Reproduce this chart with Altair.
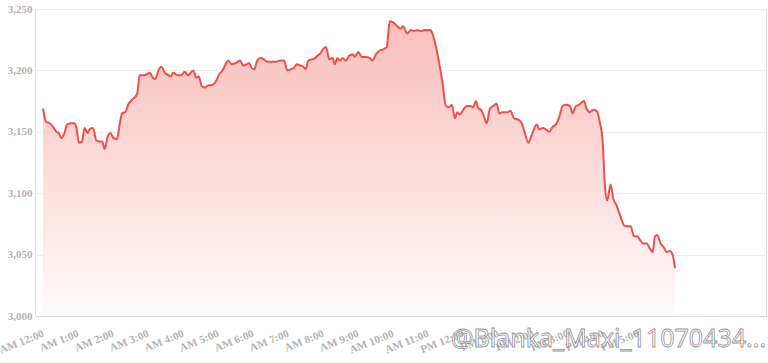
import altair as alt
import pandas as pd

hours = [0.0, 0.09, 0.19, 0.29, 0.38, 0.45, 0.52, 0.60, 0.69, 0.81, 0.89, 0.95,
         1.03, 1.11, 1.19, 1.27, 1.33, 1.43, 1.52, 1.62, 1.69, 1.76, 1.86, 1.93,
         2.01, 2.11, 2.19, 2.26, 2.35, 2.45, 2.54, 2.69, 2.76, 2.89, 2.98,
         3.05, 3.14, 3.21, 3.31, 3.38, 3.48, 3.59, 3.65, 3.72, 3.84, 3.95,
         4.05, 4.14, 4.29, 4.38, 4.45, 4.54, 4.63, 4.72, 4.82, 4.94,
         5.04, 5.13, 5.20, 5.29, 5.39, 5.51, 5.63, 5.72, 5.82, 5.89, 5.96,
         6.04, 6.12, 6.22, 6.31, 6.41, 6.53, 6.66, 6.77, 6.89, 6.98,
         7.08, 7.17, 7.25, 7.34, 7.44, 7.51, 7.58, 7.68, 7.77, 7.84, 7.93, 7.99,
         8.09, 8.18, 8.28, 8.34, 8.41, 8.49, 8.56, 8.66, 8.75, 8.85, 8.91,
         9.01, 9.11, 9.23, 9.34, 9.42, 9.51, 9.61, 9.71, 9.82, 9.91,
         10.01, 10.12, 10.22, 10.29, 10.41, 10.51, 10.60, 10.69, 10.79, 10.91,
         11.06, 11.13, 11.23, 11.32, 11.42, 11.51, 11.61, 11.68, 11.77, 11.84, 11.91,
         12.01, 12.11, 12.20, 12.29, 12.37, 12.44, 12.51, 12.58, 12.68, 12.77, 12.87, 12.96,
         13.04, 13.13, 13.25, 13.36, 13.46, 13.58, 13.68, 13.77, 13.87, 13.96,
         14.11, 14.18, 14.28, 14.37, 14.47, 14.56, 14.66, 14.75, 14.85, 14.94,
         15.06, 15.13, 15.23, 15.32, 15.39, 15.46, 15.53, 15.63, 15.72, 15.82, 15.91, 15.99,
         16.06, 16.12, 16.22, 16.29, 16.39, 16.49, 16.60, 16.68, 16.79, 16.89, 16.98,
         17.06, 17.15, 17.25, 17.34, 17.42, 17.49, 17.55, 17.65, 17.74, 17.82, 17.91, 17.99,
         18.06]

prices = [3169, 3158, 3157, 3154, 3150, 3149, 3145, 3148, 3156, 3157, 3157, 3154,
          3141, 3142, 3153, 3149, 3152, 3153, 3143, 3142, 3142, 3136, 3147, 3149,
          3145, 3144, 3156, 3165, 3166, 3173, 3176, 3181, 3196, 3196, 3197,
          3198, 3194, 3193, 3201, 3203, 3198, 3196, 3195, 3198, 3196, 3196,
          3199, 3196, 3200, 3194, 3195, 3187, 3186, 3188, 3188, 3191,
          3197, 3200, 3204, 3208, 3205, 3206, 3208, 3204, 3205, 3206, 3202,
          3201, 3208, 3210, 3209, 3207, 3207, 3207, 3208, 3208, 3200,
          3201, 3202, 3205, 3204, 3203, 3201, 3208, 3209, 3210, 3212, 3214, 3217,
          3219, 3209, 3210, 3205, 3210, 3208, 3210, 3208, 3212, 3213, 3211,
          3215, 3211, 3211, 3210, 3208, 3213, 3216, 3217, 3219, 3240,
          3239, 3236, 3234, 3236, 3230, 3233, 3232, 3233, 3232, 3233,
          3233, 3230, 3219, 3206, 3189, 3171, 3170, 3172, 3161, 3166, 3164,
          3168, 3171, 3171, 3170, 3175, 3169, 3168, 3164, 3157, 3169, 3171, 3173,
          3165, 3166, 3166, 3167, 3161, 3160, 3157, 3149, 3141, 3147,
          3156, 3152, 3153, 3152, 3150, 3154, 3156, 3162, 3171, 3172,
          3171, 3165, 3171, 3172, 3174, 3175, 3169, 3166, 3168, 3167, 3158, 3143,
          3105, 3094, 3107, 3096, 3090, 3082, 3074, 3073, 3073, 3065, 3065,
          3062, 3059, 3059, 3055, 3052, 3065, 3066, 3059, 3056, 3052, 3053, 3050,
          3039]

y_ticks = [3000, 3050, 3100, 3150, 3200, 3250]
x_ticks = list(range(0, 18))
baseline_value = 3000
watermark = "@Blanka_Maxi_11070434..."

df = pd.DataFrame({"hour": hours, "price": prices})

line_color = "#f0504a"
label_color = "#b4b4b4"

x_enc = alt.X(
    "hour:Q",
    scale=alt.Scale(domain=[-0.229, 20.66], nice=False, zero=False),
    axis=alt.Axis(
        values=x_ticks,
        labelExpr="datum.value < 12 ? 'AM ' + (datum.value == 0 ? 12 : datum.value) + ':00' : 'PM ' + (datum.value == 12 ? 12 : datum.value - 12) + ':00'",
        labelAngle=-22,
        labelAlign="right",
        labelBaseline="middle",
        labelPadding=17,
        labelFont="Liberation Serif",
        labelFontWeight="bold",
        labelFontSize=11,
        labelColor=label_color,
        labelOverlap=False,
        labelBound=False,
        grid=False,
        ticks=False,
        domain=True,
        domainColor="#dddddd",
        title=None,
    ),
)
y_enc = alt.Y(
    "price:Q",
    scale=alt.Scale(domain=[3000, 3250], nice=False, zero=False),
    axis=alt.Axis(
        values=y_ticks,
        labelExpr="replace(format(datum.value, '.0f'), /^(\\d)(\\d{3})$/, '$1,$2')",
        labelFont="Liberation Serif",
        labelFontWeight="bold",
        labelFontSize=11,
        labelColor=label_color,
        labelPadding=3,
        grid=True,
        gridColor="#eeeeee",
        ticks=False,
        domain=False,
        title=None,
    ),
)

area = alt.Chart(df).mark_area(
    color=alt.Gradient(
        gradient="linear",
        stops=[
            alt.GradientStop(color="#f9bfbc", offset=0),
            alt.GradientStop(color="#fcdcda", offset=0.5),
            alt.GradientStop(color="#fffcfc", offset=1),
        ],
        x1=0, x2=0, y1=0, y2=1,
    ),
    interpolate="monotone",
).encode(x=x_enc, y=y_enc, y2=alt.datum(baseline_value))

line = alt.Chart(df).mark_line(
    color=line_color, strokeWidth=2, interpolate="monotone"
).encode(x="hour:Q", y="price:Q")

wm = alt.Chart(alt.Data(values=[{"t": watermark}])).mark_text(
    align="left", baseline="alphabetic", font="Noto Sans", fontSize=25,
    fill="white", stroke="#8a8a8a", strokeWidth=0.8, opacity=0.9,
).encode(text="t:N", x=alt.value(416), y=alt.value(338))

chart = alt.layer(area, line, wm).properties(
    width=731, height=307,
    padding={"left": 35, "top": 9, "right": 2, "bottom": 47},
    autosize=alt.AutoSizeParams(type="none"),
).configure_view(stroke=None).configure(background="white")

chart.save("out.html", embed_options={"renderer": "svg", "actions": False})
